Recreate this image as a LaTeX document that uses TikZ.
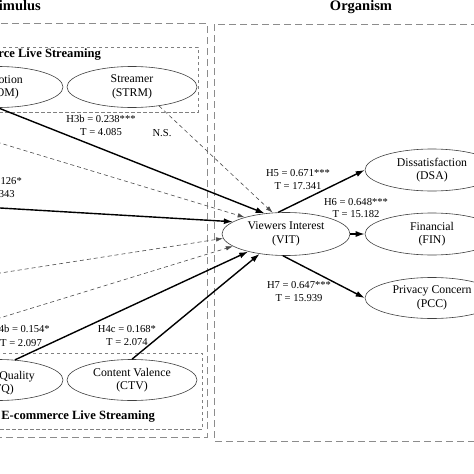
\documentclass[tikz,border=0pt]{standalone}
\usepackage{fontspec}
\setmainfont{Liberation Serif}
\usetikzlibrary{shapes.geometric,arrows.meta}
\begin{document}
\begin{tikzpicture}[x=1pt,y=-1pt,
  construct/.style={ellipse,draw=black!75,line width=0.6pt,minimum width=130pt,minimum height=41pt,inner sep=0pt,align=center,font=\fontsize{11.8}{13.5}\selectfont},
  frag/.style={inner sep=0pt,font=\fontsize{11.8}{13.5}\selectfont},
  hlabel/.style={inner sep=0pt,align=center,font=\fontsize{10.6}{12.8}\selectfont},
  hfrag/.style={inner sep=0pt,font=\fontsize{10.6}{12.8}\selectfont},
  outerbox/.style={draw=black!45,line width=0.8pt,dash pattern=on 7pt off 4pt},
  innerbox/.style={draw=black!50,line width=0.7pt,dash pattern=on 3.5pt off 2.5pt},
  sig/.style={draw=black,line width=1.4pt,-{Latex[length=9pt,width=6pt]}},
  nsarrow/.style={draw=black!70,line width=0.6pt,dash pattern=on 4pt off 3pt,-{Latex[length=7pt,width=4.5pt]}},
  heading/.style={inner sep=0pt,font=\fontsize{14.5}{16}\selectfont\bfseries},
  grouptitle/.style={inner sep=0pt,font=\fontsize{12.6}{14}\selectfont\bfseries}
]
\useasboundingbox (0,0) rectangle (474,474);
\clip (0,0) rectangle (474,474);

% boxes
\draw[outerbox] (-20,23) rectangle (207,437);
\draw[outerbox] (214,24) rectangle (490,441);
\draw[innerbox] (-20,47) rectangle (198,112);
\draw[innerbox] (-20,353) rectangle (202,429);

% headings
\node[heading,anchor=base east] (stim) at (41,10) {imulus};
\node[heading,anchor=base] (org) at (361,10) {Organism};
\node[grouptitle,anchor=base east] (g1) at (101,57) {rce Live Streaming};
\node[grouptitle,anchor=base east] (g2) at (155,419) {E-commerce Live Streaming};

% constructs
\node[construct] (prom) at (-2,87) {};
\node[construct] (strm) at (132,87) {Streamer\\(STRM)};
\node[construct] (tq) at (-2,380) {};
\node[construct] (ctv) at (132,380) {Content Valence\\(CTV)};
\node[construct,minimum width=128pt,minimum height=43pt] (vit) at (286,234) {Viewers Interest\\(VIT)};
\node[construct,minimum width=134pt,minimum height=42pt] (dsa) at (432,170) {Dissatisfaction\\(DSA)};
\node[construct,minimum width=134pt,minimum height=42pt] (fin) at (432,234) {Financial\\(FIN)};
\node[construct,minimum width=134pt,minimum height=41pt] (pcc) at (432,298) {Privacy Concern\\(PCC)};

% cut-off text fragments
\node[frag,anchor=base east] (promA) at (23,83) {otion};
\node[frag,anchor=base east] (promB) at (19,96) {OM)};
\node[frag,anchor=base east] (tqA) at (35,379) {Quality};
\node[frag,anchor=base east] (tqB) at (14,392) {TQ)};

% path labels
\node[hlabel] (h3b) at (101,125.5) {H3b = 0.238***\\T = 4.085};
\node[hlabel] (nsl) at (162,133) {N.S.};
\node[hlabel] (h4c) at (127,335.5) {H4c = 0.168*\\T = 2.074};
\node[hfrag,anchor=base east] (h4bA) at (50,332) {4b = 0.154*};
\node[hfrag,anchor=base east] (h4bB) at (42,346) {T = 2.097};
\node[hfrag,anchor=base east] (hxA) at (22,184) {126*};
\node[hfrag,anchor=base east] (hxB) at (15,197) {343};
\node[hlabel] (h5) at (298,179.5) {H5 = 0.671***\\T = 17.341};
\node[hlabel] (h6) at (356,208) {H6 = 0.648***\\T = 15.182};
\node[hlabel] (h7) at (299,291.7) {H7 = 0.647***\\T = 15.939};

% off-picture sources
\coordinate (s3) at (-10,140);
\coordinate (s4) at (-10,207.4);
\coordinate (s5) at (-10,274.6);
\coordinate (s6) at (-10,321);

% connectors
\draw[sig] (prom.south) -- (vit.136);
\draw[nsarrow] (strm.-35) -- (vit.122);
\draw[nsarrow] (s3) -- (vit.158);
\draw[sig] (s4) -- (vit.167);
\draw[nsarrow] (s5) -- (vit.184);
\draw[nsarrow] (s6) -- (vit.193);
\draw[sig] (tq.50) -- (vit.205);
\draw[sig] (ctv.north) -- (vit.217);
\draw[sig] (vit.110) -- (dsa.west);
\draw[sig] (vit.east) -- (fin.west);
\draw[sig] (vit.262) -- (pcc.west);
\end{tikzpicture}
\end{document}
